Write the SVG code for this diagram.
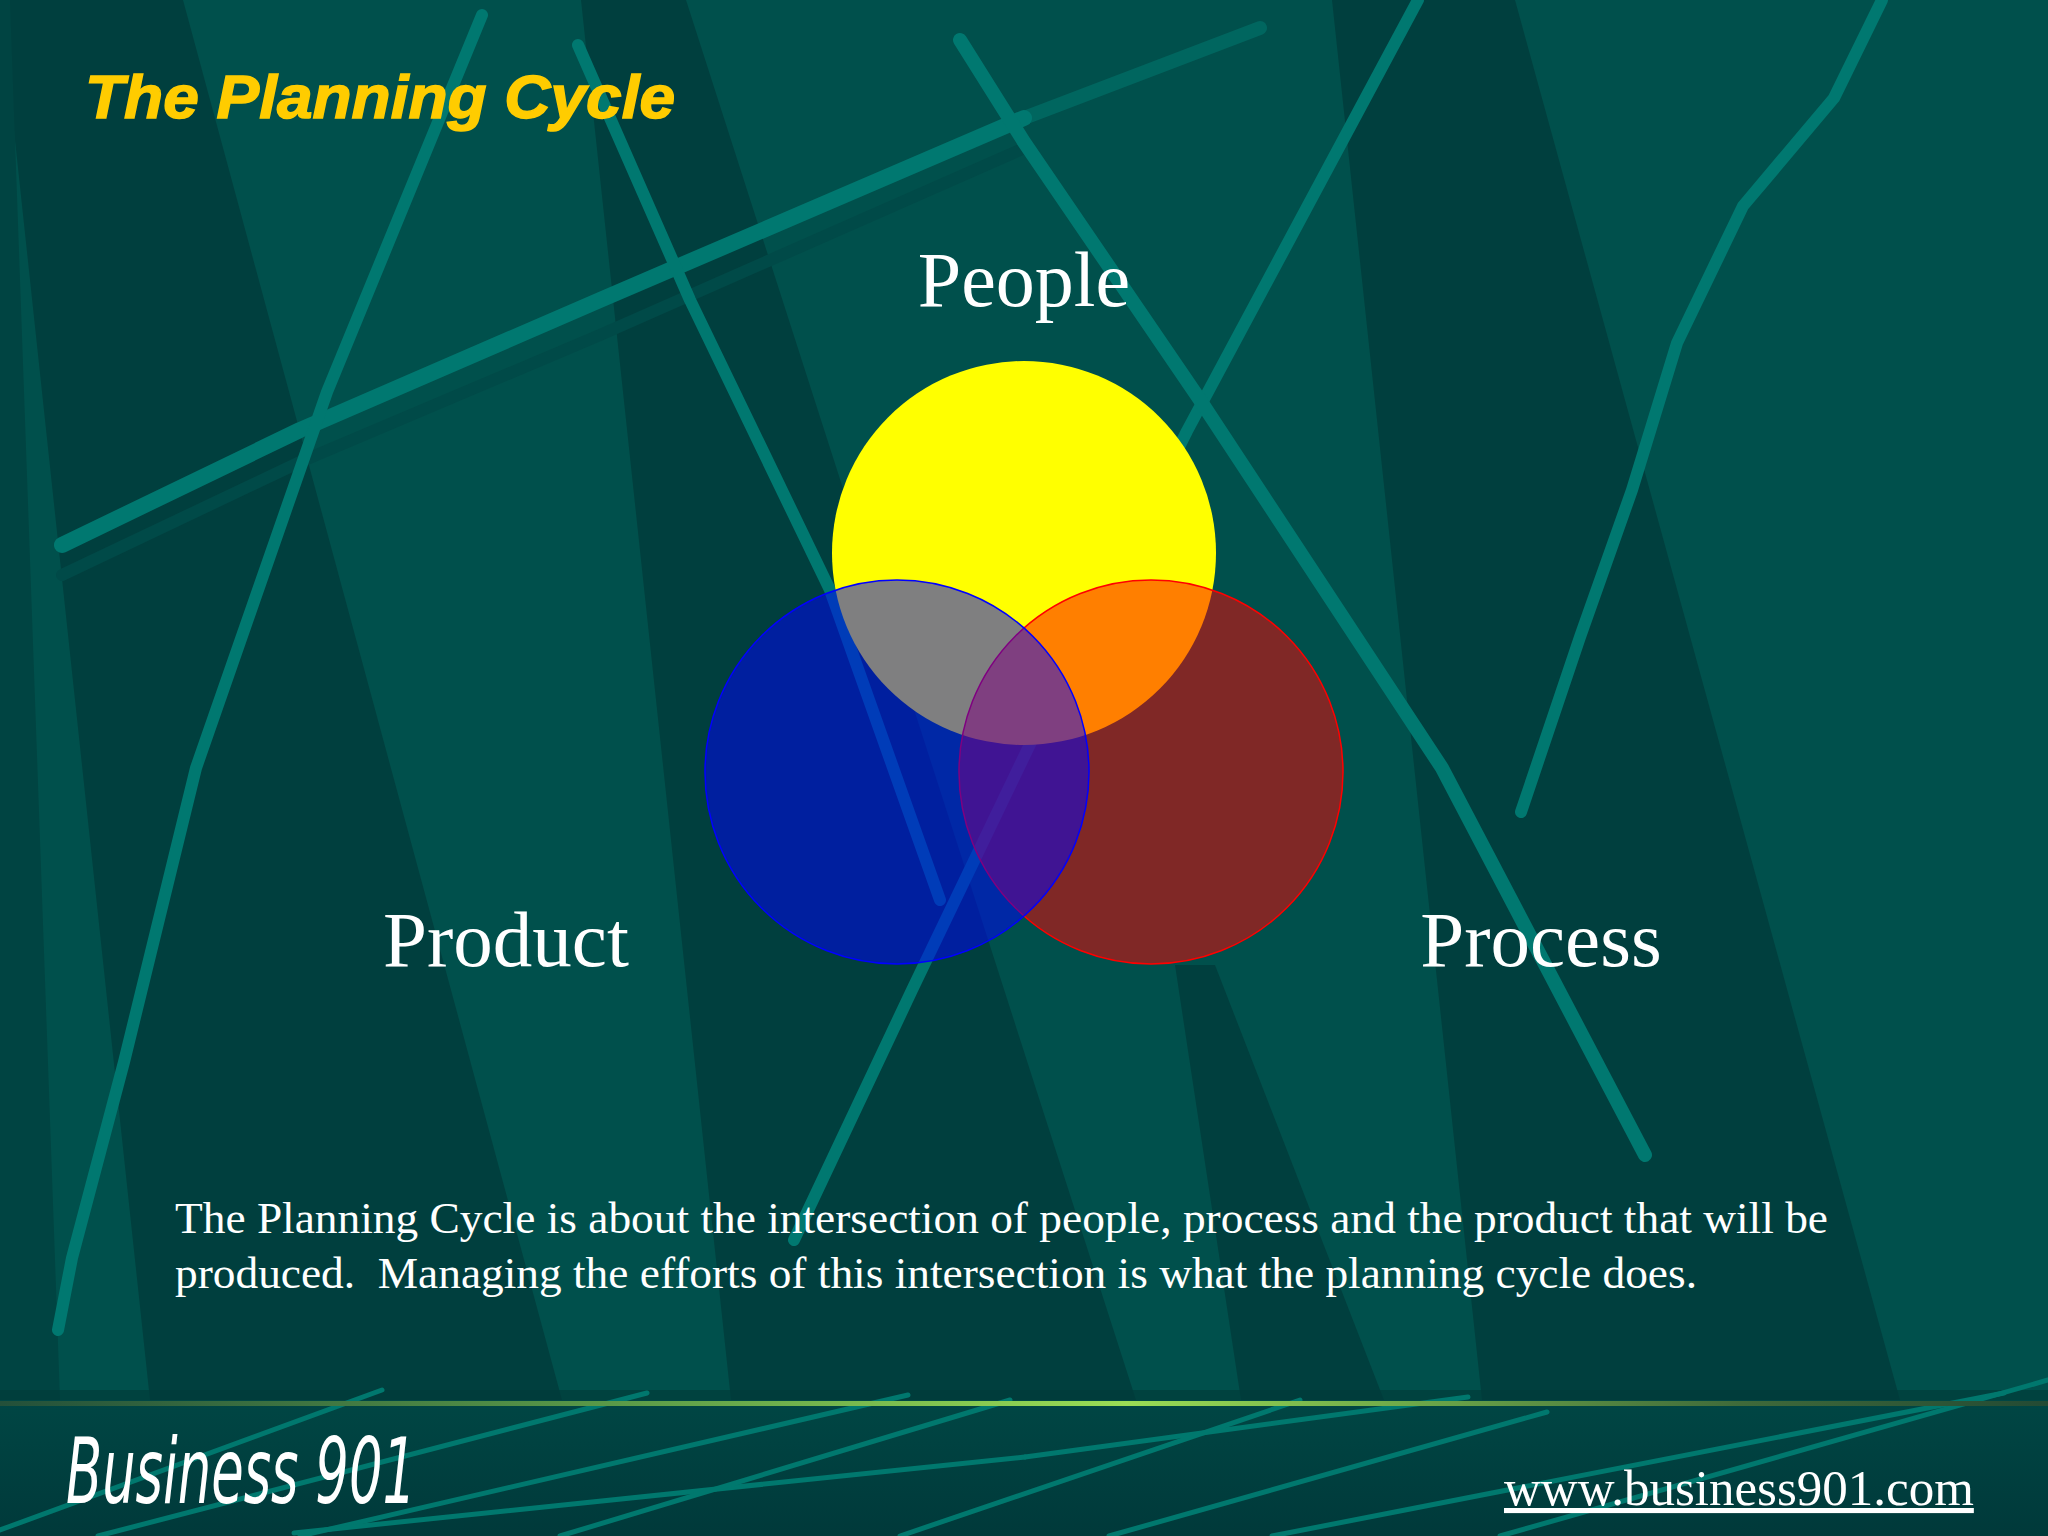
<svg xmlns="http://www.w3.org/2000/svg" width="2048" height="1536" viewBox="0 0 2048 1536">
<defs>
<linearGradient id="bandLine" x1="0" y1="0" x2="1" y2="0">
<stop offset="0" stop-color="#23503a"/>
<stop offset="0.3" stop-color="#5a9a48"/>
<stop offset="0.55" stop-color="#9add55"/>
<stop offset="0.7" stop-color="#6aa448"/>
<stop offset="0.85" stop-color="#3f6a3a"/>
<stop offset="1" stop-color="#234a34"/>
</linearGradient>
<linearGradient id="footBg" x1="0" y1="0" x2="0" y2="1">
<stop offset="0" stop-color="#004644"/>
<stop offset="1" stop-color="#00393a"/>
</linearGradient>
<style>
.bg{fill:#00504c}
.dark{fill:#003f3e}
.dark2{fill:#004442}
.streak{fill:none;stroke:#007870;stroke-linecap:round;stroke-linejoin:round}
.foot{fill:none;stroke:#00786e;stroke-width:5;stroke-linecap:round}
.label{font-family:"Liberation Serif","Times New Roman",serif;fill:#ffffff}
</style>
</defs>

<g id="background">
<rect class="bg" x="0" y="0" width="2048" height="1536"/>
<polygon class="dark" points="0,0 183,0 562,1400 150,1400"/>
<polygon class="dark" points="581,0 686,0 1136,1400 731,1400"/>
<polygon class="dark" points="1332,0 1515,0 1900,1400 1482,1400"/>
<polygon class="dark" points="1175,965 1215,965 1384,1400 1241,1400"/>
<polygon class="dark2" points="0,0 10,0 60,1400 0,1400"/>
<path class="streak" d="M 1260,28 L 1024,118" stroke-width="14" opacity="0.55"/>
<path class="streak" d="M 1024,118 L 600,300 L 300,430 L 62,545" stroke-width="16"/>
<path d="M 1020,150 L 600,335 L 300,462 L 62,575" fill="none" stroke="#004a48" stroke-width="12" stroke-linecap="round"/>
<path class="streak" d="M 482,15 L 327,392 L 196,768 L 124,1062 L 72,1258 L 58,1330" stroke-width="12"/>
<path class="streak" d="M 578,45 L 690,300 L 830,590 L 940,900" stroke-width="12"/>
<path class="streak" d="M 1418,0 L 1187,431 L 1033,738 L 912,990 L 794,1240" stroke-width="12"/>
<path class="streak" d="M 960,40 L 1024,142 L 1200,400 L 1442,768 L 1645,1155" stroke-width="14"/>
<path class="streak" d="M 1882,0 L 1834,98 L 1743,206 L 1677,343 L 1632,490 L 1580,637 L 1521,812" stroke-width="12"/>
</g>

<g id="footer-band">
<rect x="0" y="1400" width="2048" height="136" fill="url(#footBg)"/>
<rect x="0" y="1390" width="2048" height="10" fill="#003c3b" opacity="0.7"/>
<line class="foot" x1="0" y1="1530" x2="382" y2="1390"/>
<line class="foot" x1="98" y1="1536" x2="647" y2="1393"/>
<line class="foot" x1="300" y1="1536" x2="908" y2="1395"/>
<line class="foot" x1="294" y1="1533" x2="1025" y2="1457"/>
<line class="foot" x1="1025" y1="1457" x2="1468" y2="1397"/>
<line class="foot" x1="560" y1="1536" x2="1010" y2="1400"/>
<line class="foot" x1="1109" y1="1536" x2="1547" y2="1412"/>
<line class="foot" x1="1272" y1="1536" x2="2004" y2="1393"/>
<line class="foot" x1="1500" y1="1536" x2="2048" y2="1380"/>
<line class="foot" x1="900" y1="1536" x2="1300" y2="1400"/>
<rect x="0" y="1401" width="2048" height="5" fill="url(#bandLine)"/>
</g>

<g id="title">
<text x="85" y="118" font-family="Liberation Sans, Arial, sans-serif" font-weight="bold" font-style="italic" font-size="62" fill="#ffcc00" stroke="#ffcc00" stroke-width="1.5" textLength="590" lengthAdjust="spacingAndGlyphs">The Planning Cycle</text>
</g>

<g id="node-people">
<circle cx="1024" cy="553" r="192" fill="#ffff00"/>
<text class="label" x="1024" y="306" font-size="78" text-anchor="middle">People</text>
</g>

<g id="node-process">
<circle cx="1151" cy="772" r="192" fill="#ff0000" fill-opacity="0.5" stroke="#ff0000" stroke-width="1.5"/>
<text class="label" x="1541" y="966" font-size="79" text-anchor="middle">Process</text>
</g>

<g id="node-product">
<circle cx="897" cy="772" r="192" fill="#0000ff" fill-opacity="0.5" stroke="#0000ff" stroke-width="1.5"/>
<text class="label" x="506" y="966" font-size="79" text-anchor="middle">Product</text>
</g>

<g id="connectors"></g>

<g id="description">
<text class="label" x="175" y="1233" font-size="44" textLength="1653" lengthAdjust="spacingAndGlyphs">The Planning Cycle is about the intersection of people, process and the product that will be</text>
<text class="label" x="175" y="1288" font-size="44" textLength="1522" lengthAdjust="spacingAndGlyphs" xml:space="preserve">produced.  Managing the efforts of this intersection is what the planning cycle does.</text>
</g>

<g id="footer">
<text x="66" y="1503" font-family="Liberation Sans Narrow, DejaVu Sans Condensed, Liberation Sans, sans-serif" font-style="italic" font-size="90" fill="#ffffff" textLength="350" lengthAdjust="spacingAndGlyphs">Business 901</text>
<text class="label" x="1504" y="1505" font-size="51" text-decoration="underline">www.business901.com</text>
</g>
</svg>
